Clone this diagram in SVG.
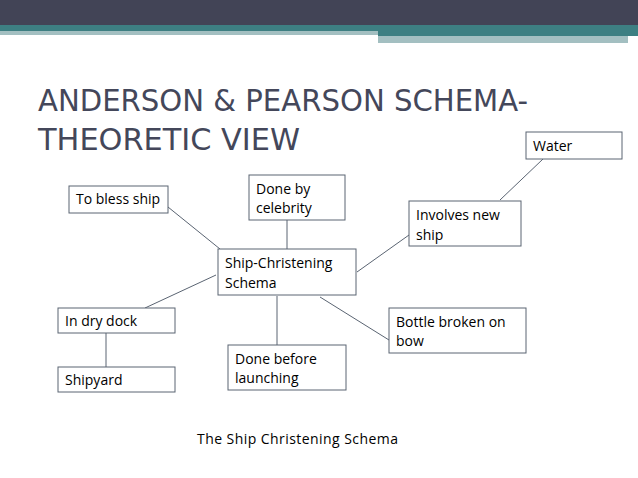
<svg xmlns="http://www.w3.org/2000/svg" width="638" height="478" viewBox="0 0 638 478">
<style>
.b{fill:#fff;stroke:#5a6472;stroke-width:1}
.t{font-family:"Open Sans","Liberation Sans",sans-serif;font-size:14px;fill:#000}
.h{font-family:"DejaVu Sans Condensed","Liberation Sans Narrow","Open Sans",sans-serif;font-size:31px;fill:#44475a}
.c line{stroke:#5a6472;stroke-width:1}
</style>
<rect width="638" height="478" fill="#fff"/>
<rect x="0" y="0" width="638" height="25" fill="#424456"/>
<rect x="0" y="25" width="638" height="6" fill="#3d7f82"/>
<rect x="0" y="31" width="378" height="4" fill="#a3bfc1"/>
<rect x="378" y="31" width="260" height="5" fill="#3d7f82"/>
<rect x="378" y="36" width="250" height="7" fill="#a3bfc1"/>
<text class="h" x="38" y="111" textLength="490" lengthAdjust="spacingAndGlyphs">ANDERSON &amp; PEARSON SCHEMA-</text>
<text class="h" x="38" y="150" textLength="262" lengthAdjust="spacingAndGlyphs">THEORETIC VIEW</text>
<g class="c">
<line x1="168" y1="207" x2="220" y2="249"/>
<line x1="287" y1="220" x2="287" y2="249"/>
<line x1="357" y1="272" x2="409" y2="235"/>
<line x1="500" y1="200" x2="543" y2="159"/>
<line x1="216" y1="275" x2="145" y2="308"/>
<line x1="277" y1="296" x2="277" y2="345"/>
<line x1="320" y1="297" x2="389" y2="340"/>
<line x1="106" y1="333" x2="106" y2="367"/>
</g>
<g id="water"><rect class="b" x="526" y="132" width="96" height="27"/><text class="t" x="533" y="151">Water</text></g>
<g id="bless"><rect class="b" x="69" y="186" width="99" height="27"/><text class="t" x="76" y="204">To bless ship</text></g>
<g id="celebrity"><rect class="b" x="249" y="175" width="96" height="45"/><text class="t" x="256" y="194">Done by</text><text class="t" x="256" y="213">celebrity</text></g>
<g id="newship"><rect class="b" x="409" y="201" width="112" height="45"/><text class="t" x="416" y="220">Involves new</text><text class="t" x="416" y="240">ship</text></g>
<g id="center"><rect class="b" x="218" y="249" width="138" height="46"/><text class="t" x="225" y="268">Ship-Christening</text><text class="t" x="225" y="288">Schema</text></g>
<g id="drydock"><rect class="b" x="58" y="308" width="117" height="25"/><text class="t" x="65" y="326">In dry dock</text></g>
<g id="bottle"><rect class="b" x="389" y="308" width="137" height="45"/><text class="t" x="396" y="327">Bottle broken on</text><text class="t" x="396" y="346">bow</text></g>
<g id="launch"><rect class="b" x="228" y="345" width="118" height="45"/><text class="t" x="235" y="364">Done before</text><text class="t" x="235" y="383">launching</text></g>
<g id="shipyard"><rect class="b" x="58" y="367" width="117" height="25"/><text class="t" x="65" y="385">Shipyard</text></g>
<text class="t" x="197" y="444" textLength="201">The Ship Christening Schema</text>
</svg>
